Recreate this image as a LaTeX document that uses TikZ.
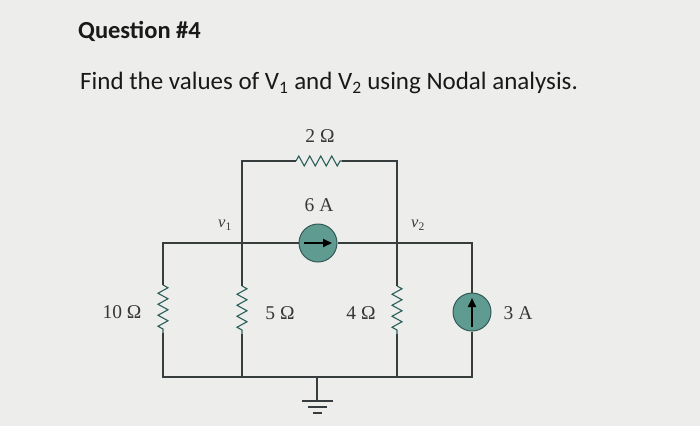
\documentclass[tikz,border=0pt]{standalone}
\usepackage{fontspec}
\setmainfont{Carlito}
\newfontfamily\ckt{Liberation Serif}
\usetikzlibrary{decorations.pathmorphing,arrows.meta}
\definecolor{bg}{RGB}{237,238,236}
\definecolor{wire}{RGB}{55,60,60}
\definecolor{res}{RGB}{45,95,90}
\definecolor{src}{RGB}{95,155,145}
\definecolor{srcedge}{RGB}{50,90,85}
\definecolor{txt}{RGB}{25,25,25}
\definecolor{lbl}{RGB}{55,55,55}
\tikzset{
  wireline/.style={draw=wire, line width=1.3pt},
  resistor/.style={draw=res, line width=1.1pt, decorate,
    decoration={zigzag, segment length=11pt, amplitude=5pt, pre length=0pt, post length=0pt}},
  cursrc/.style={circle, draw=srcedge, fill=src, line width=1pt, minimum size=38pt, inner sep=0pt},
  srcarrow/.style={draw=black, line width=1.9pt, -{Triangle[length=9pt,width=8pt]}},
  val/.style={font=\ckt\fontsize{19.5}{21}\selectfont, text=lbl, inner sep=0pt},
  nodelbl/.style={font=\ckt\itshape\fontsize{16.5}{18}\selectfont, text=lbl, inner sep=0pt},
  qtext/.style={text=txt, inner sep=0pt, anchor=west}
}
\begin{document}
\begin{tikzpicture}[x=1pt,y=-1pt]
\fill[bg] (0,0) rectangle (700,426);
\useasboundingbox (0,0) rectangle (700,426);

% text
\node[qtext, font=\bfseries\fontsize{24.5}{28}\selectfont] (title) at (78,31) {Question \#4};
\node[qtext, font=\fontsize{25}{28}\selectfont] (task) at (80,83) {Find the values of V\textsubscript{1} and V\textsubscript{2} using Nodal analysis.};

% coordinates
\coordinate (TL) at (242,161);
\coordinate (TR) at (397,161);
\coordinate (R2a) at (296,161);
\coordinate (R2b) at (342,161);
\coordinate (ML) at (163,243);
\coordinate (V1) at (242,243);
\coordinate (V2) at (397,243);
\coordinate (MR) at (472,243);
\coordinate (BL) at (163,377);
\coordinate (B1) at (242,377);
\coordinate (B2) at (397,377);
\coordinate (BR) at (472,377);
\coordinate (G) at (317,377);
\coordinate (Gb) at (317,401);
\coordinate (R10a) at (163,285);
\coordinate (R10b) at (163,333);
\coordinate (R5a) at (242,286);
\coordinate (R5b) at (242,334);
\coordinate (R4a) at (397,286);
\coordinate (R4b) at (397,334);

% sources
\node[cursrc] (S6) at (318,243) {};
\node[cursrc] (S3) at (472,312) {};

% wires
\draw[wireline] (R2a) -- (TL) -- (V1) -- (R5a);
\draw[wireline] (R2b) -- (TR) -- (V2) -- (R4a);
\draw[wireline] (R10a) -- (ML) -- (V1) -- (S6.west);
\draw[wireline] (S6.east) -- (V2) -- (MR) -- (S3.north);
\draw[wireline] (S3.south) -- (BR) -- (B2) -- (G) -- (B1) -- (BL) -- (R10b);
\draw[wireline] (R5b) -- (B1);
\draw[wireline] (R4b) -- (B2);
\draw[wireline] (G) -- (Gb);

% ground
\coordinate (g1l) at (302,401); \coordinate (g1r) at (333,401);
\coordinate (g2l) at (308,407); \coordinate (g2r) at (327,407);
\coordinate (g3l) at (313,413); \coordinate (g3r) at (322,413);
\draw[wireline] (g1l) -- (g1r);
\draw[wireline] (g2l) -- (g2r);
\draw[wireline] (g3l) -- (g3r);

% resistors
\draw[resistor] (R2a) -- (R2b);
\draw[resistor] (R10a) -- (R10b);
\draw[resistor] (R5a) -- (R5b);
\draw[resistor] (R4a) -- (R4b);

% source arrows
\draw[srcarrow] ([xshift=-14pt]S6.center) -- ([xshift=14pt]S6.center);
\draw[srcarrow] ([yshift=-15pt]S3.center) -- ([yshift=14pt]S3.center);

% labels
\node[val] (l2) at (320,136) {2 Ω};
\node[val] (l6) at (319,205) {6 A};
\node[val] (l10) at (122,312) {10 Ω};
\node[val] (l5) at (280,313) {5 Ω};
\node[val] (l4) at (361,313) {4 Ω};
\node[val] (l3) at (518,313) {3 A};
\node[nodelbl] (lv1) at (225,225) {v\textsubscript{\upshape 1}};
\node[nodelbl] (lv2) at (418,225) {v\textsubscript{\upshape 2}};
\end{tikzpicture}
\end{document}
